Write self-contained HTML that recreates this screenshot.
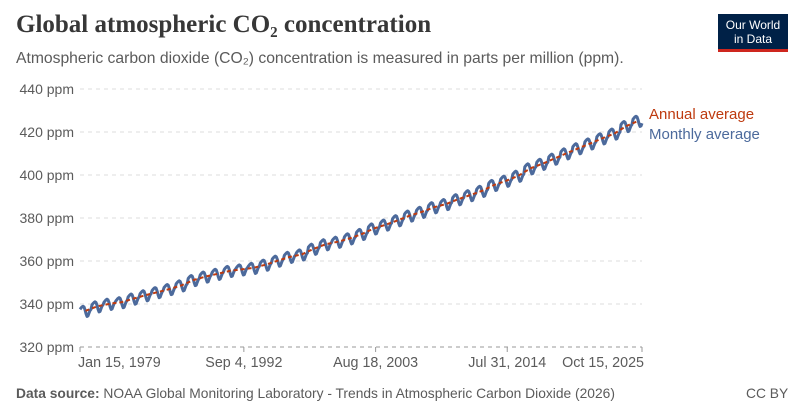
<!DOCTYPE html>
<html><head><meta charset="utf-8"><style>
body{margin:0;background:#fff;width:800px;height:418px;overflow:hidden;font-family:"Liberation Sans",sans-serif}
.t{position:absolute}
</style></head><body>
<div class="t" style="left:16px;top:11px;font-family:'Liberation Serif',serif;font-weight:bold;font-size:25px;color:#373737">Global atmospheric CO₂ concentration</div>
<div class="t" style="left:16px;top:50px;font-size:15.7px;color:#5b5b5b">Atmospheric carbon dioxide (CO₂) concentration is measured in parts per million (ppm).</div>
<div class="t" style="left:718px;top:14px;width:70px;height:38px;background:#002147;border-bottom:3px solid #ce261e;box-sizing:border-box;color:#fff;font-size:12px;line-height:14px;text-align:center;padding-top:4px">Our World<br>in Data</div>
<svg id="c" width="800" height="418" style="position:absolute;left:0;top:0"></svg>
<div class="t" style="left:16px;top:386px;font-size:13.8px;color:#5b5b5b"><b>Data source:</b> NOAA Global Monitoring Laboratory - Trends in Atmospheric Carbon Dioxide (2026)</div>
<div class="t" style="left:746px;top:386px;font-size:13.8px;color:#5b5b5b">CC BY</div>
<script>
const years=[1979,1980,1981,1982,1983,1984,1985,1986,1987,1988,1989,1990,1991,1992,1993,1994,1995,1996,1997,1998,1999,2000,2001,2002,2003,2004,2005,2006,2007,2008,2009,2010,2011,2012,2013,2014,2015,2016,2017,2018,2019,2020,2021,2022,2023,2024,2025];
const annual=[336.85,338.91,340.11,340.86,342.53,344.07,345.54,346.97,348.68,351.16,352.79,354.05,355.39,356.09,356.83,358.33,360.17,361.93,363.05,365.70,367.80,368.96,370.57,372.58,375.14,376.95,378.98,381.15,382.90,385.02,386.50,388.76,390.63,392.65,395.40,397.34,399.65,403.09,405.22,407.61,410.07,412.44,414.70,417.07,419.31,422.8,425.2];
const seasonal=[0.7,1.3,1.8,2.1,1.8,0.5,-1.3,-2.6,-2.4,-1.1,0.1,0.7];
const yTicks=[320,340,360,380,400,420,440];
const xTickLabels=["Jan 15, 1979","Sep 4, 1992","Aug 18, 2003","Jul 31, 2014","Oct 15, 2025"];
const xTickDates=[1979.04,1992.67,2003.63,2014.58,2025.79];
const svg=document.getElementById('c');const NS='http://www.w3.org/2000/svg';
const x0=80,x1=642,t0=1979.04,t1=2025.79,yb=347,yt=89;
const X=t=>x0+(t-t0)/(t1-t0)*(x1-x0);
const Y=v=>yb-(v-320)/(440-320)*(yb-yt);
function el(n,a){const e=document.createElementNS(NS,n);for(const k in a)e.setAttribute(k,a[k]);svg.appendChild(e);return e;}
yTicks.forEach(v=>{
 const g=el('line',{x1:x0,x2:x1,y1:Y(v),y2:Y(v),stroke:v===320?'#999':'#ddd','stroke-dasharray':'4,4'});
 
 const t=el('text',{x:74,y:Y(v)+5,'text-anchor':'end','font-size':14,fill:'#5b5b5b','font-family':'Liberation Sans,sans-serif'});
 t.textContent=v+' ppm';
 
});
xTickDates.forEach((d,i)=>{
 const l=el('line',{x1:X(d),x2:X(d),y1:yb,y2:yb+5,stroke:'#999'});
 
 const anc=i===0?'start':(i===xTickDates.length-1?'end':'middle');
 const t=el('text',{x:X(d)+(i===0?-2:0)+(i===xTickDates.length-1?2:0),y:367,'text-anchor':anc,'font-size':14.3,fill:'#5b5b5b','font-family':'Liberation Sans,sans-serif'});
 t.textContent=xTickLabels[i];
 
});
let mp=[];
years.forEach((yr,i)=>seasonal.forEach((s,m)=>{const t=yr+m/12+0.04;if(t<=t1+0.01)mp.push(X(t).toFixed(1)+','+Y(annual[i]+s).toFixed(1));}));
const ml=el('polyline',{points:mp.join(' '),fill:'none',stroke:'#4c6a9c','stroke-width':3,'stroke-linejoin':'round'});

const ap=years.map((yr,i)=>X(Math.min(yr+0.5,t1)).toFixed(1)+','+Y(annual[i]).toFixed(1)).join(' ');
const al=el('polyline',{points:ap,fill:'none',stroke:'#be3a0f','stroke-width':2,'stroke-dasharray':'4,3'});

const l1=el('text',{x:649,y:119,'font-size':15,fill:'#be3a0f','font-family':'Liberation Sans,sans-serif'});l1.textContent='Annual average';

const l2=el('text',{x:649,y:139,'font-size':15,fill:'#4c6a9c','font-family':'Liberation Sans,sans-serif'});l2.textContent='Monthly average';

</script>
</body></html>
